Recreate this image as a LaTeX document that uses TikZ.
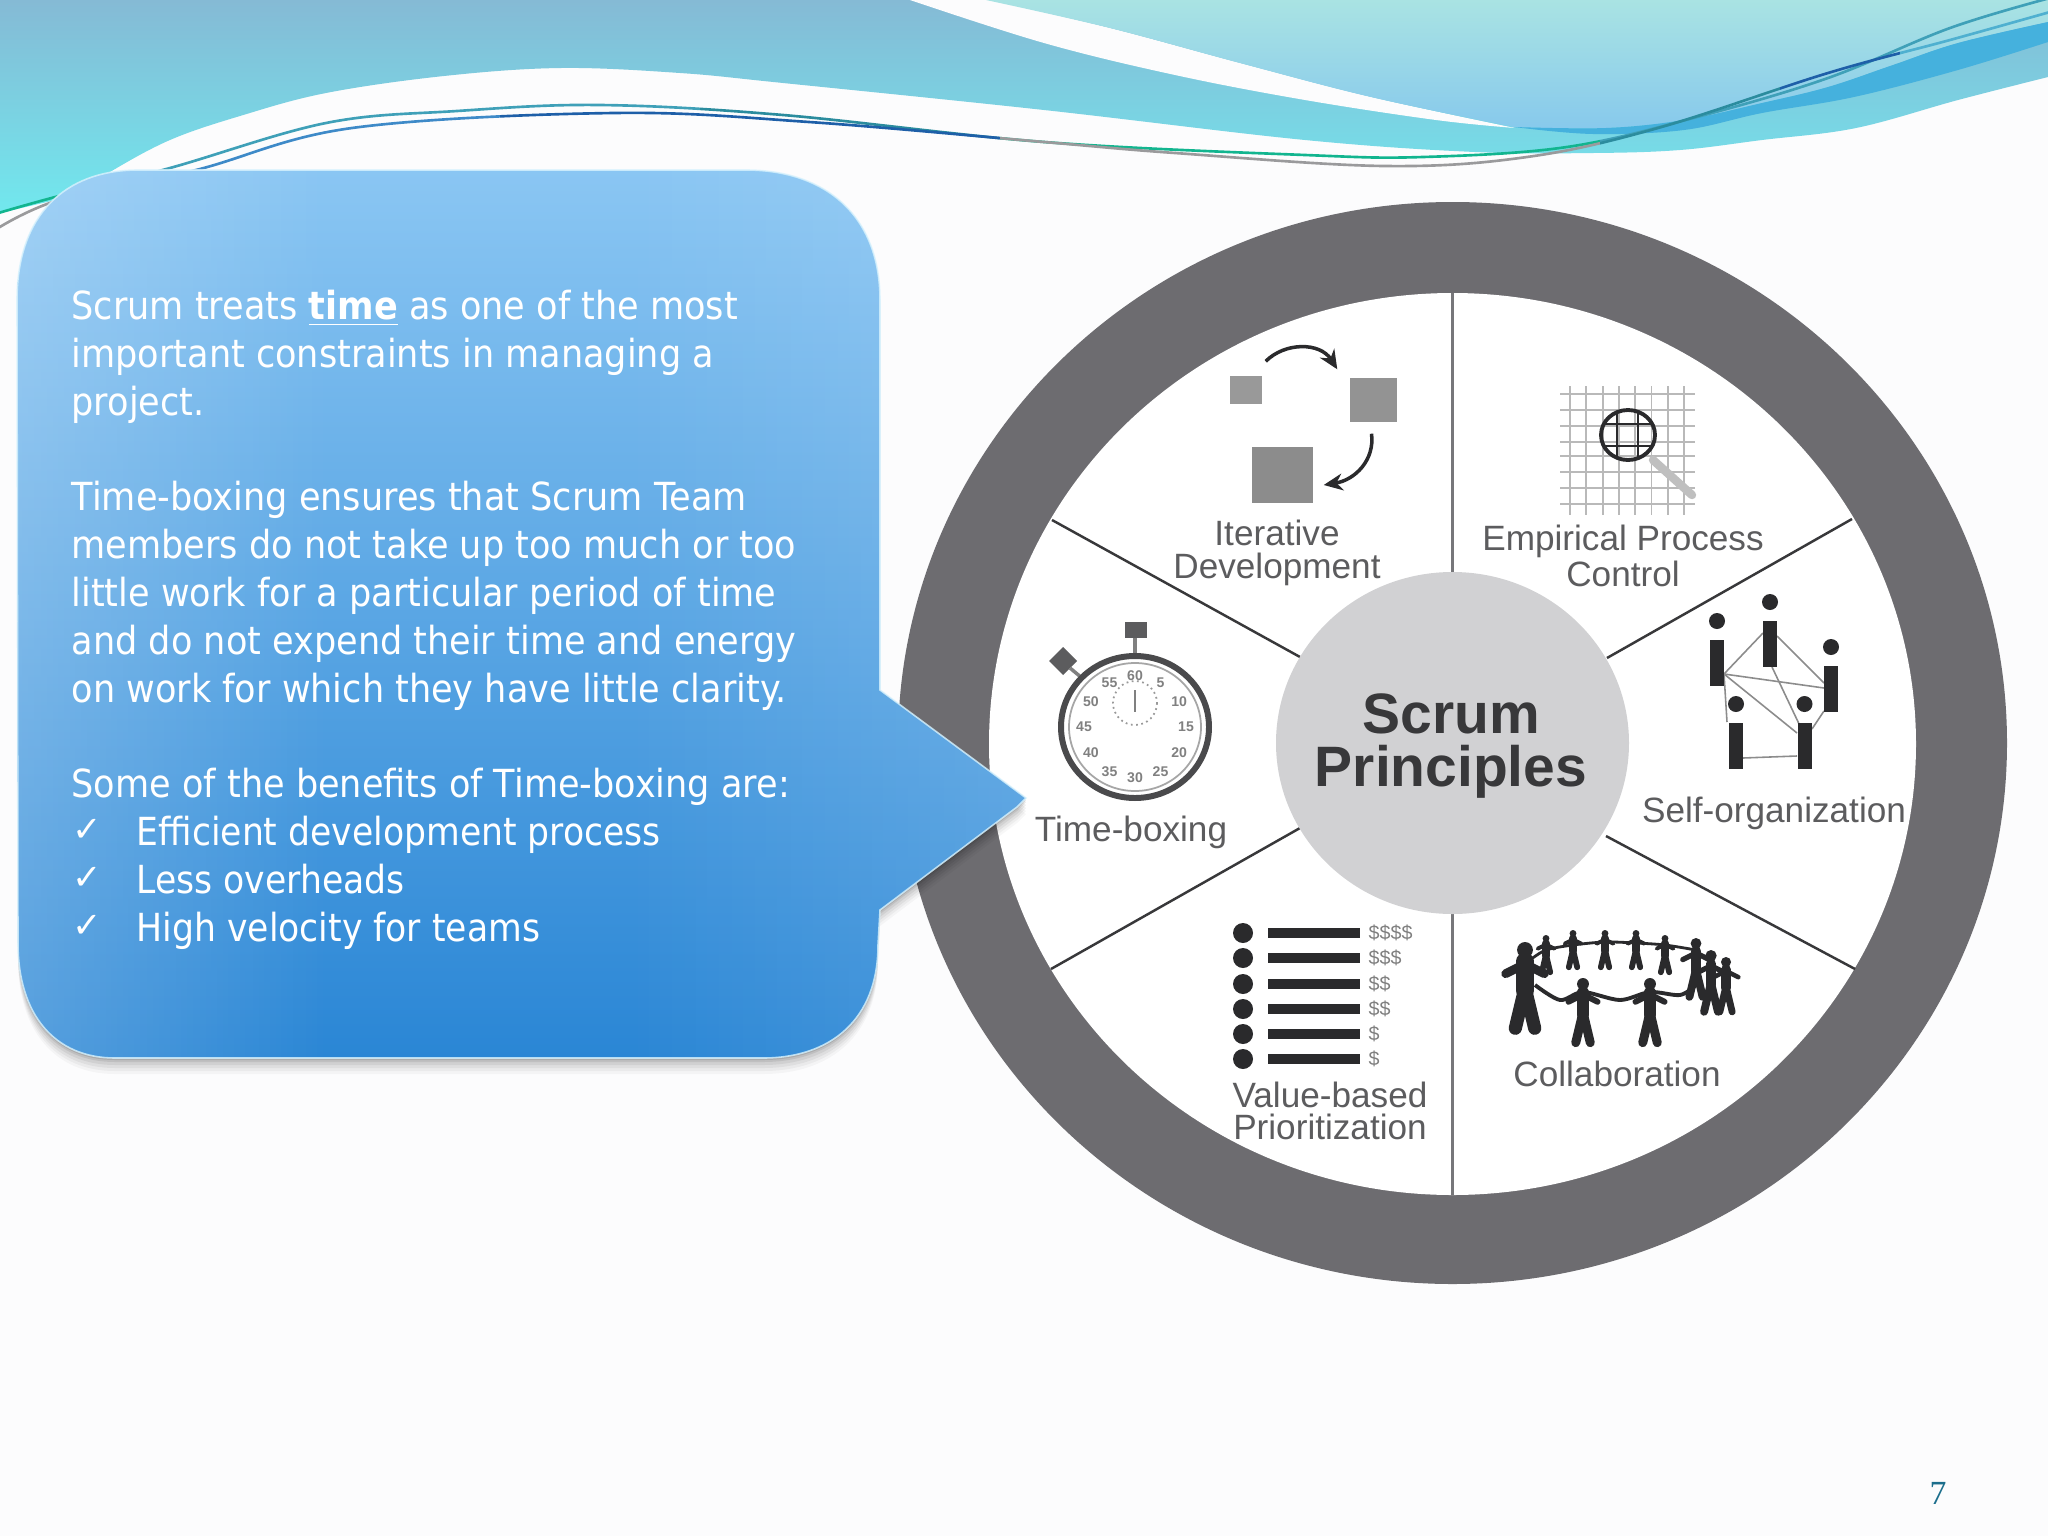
\documentclass[tikz,border=0pt]{standalone}
\usepackage{fontspec}
\usetikzlibrary{fadings,arrows.meta}
\setmainfont{Liberation Sans}
\newfontfamily\slidefont{DejaVu Sans}[FakeStretch=0.907]
\newfontfamily\itemfont{DejaVu Sans}[FakeStretch=0.895]
\newfontfamily\chkfont{DejaVu Sans}
\newfontfamily\difont{Liberation Sans}
\newfontfamily\numfont{Liberation Serif}
\definecolor{pagebg}{HTML}{FCFCFD}
\definecolor{wavetop}{HTML}{85BAD5}
\definecolor{wavebot}{HTML}{71E8EE}
\definecolor{lighttop}{HTML}{A9E3E3}
\definecolor{lightbot}{HTML}{87C9EC}
\definecolor{bandblue}{HTML}{45B1DD}
\definecolor{ringgray}{HTML}{6D6C70}
\definecolor{hubgray}{HTML}{D1D1D3}
\definecolor{spokegray}{HTML}{77777A}
\definecolor{spokedark}{HTML}{38383A}
\definecolor{lbl}{HTML}{5C5C5E}
\definecolor{ink}{HTML}{2A2A2C}
\definecolor{boxa}{HTML}{8AC6F3}
\definecolor{boxb}{HTML}{57A6E6}
\definecolor{boxc}{HTML}{2A86D5}
\definecolor{pagenum}{HTML}{1B6E8C}
\definecolor{wiregreen}{HTML}{12B58F}
\definecolor{wireteal}{HTML}{3FA0B8}
\definecolor{wiredeep}{HTML}{2B8C9E}
\definecolor{wireblue}{HTML}{3E8AC8}
\definecolor{wirenavy}{HTML}{1E5FA8}
\definecolor{wiregray}{HTML}{9A9A9C}
\definecolor{wiresky}{HTML}{4FB0D0}
\def\lineA{plot[smooth,tension=.6] coordinates {(-5,214)(59,196)(170,168)(326,123)(457,111)(600,105)(783,115)(1044,142)(1305,155)(1423,157)(1567,147)(1697,117)(1828,78)(1950,28)(2050,-2)}}
\def\lineB{plot[smooth,tension=.6] coordinates {(-5,230)(59,200)(196,170)(352,128)(614,113)(809,122)(1044,142)(1175,153)(1384,166)(1527,157)(1658,128)(1828,73)(1950,40)(2050,12)}}
\def\calloutpath{(138,170) -- (746,170) .. controls (825,170) and (880,215) .. (880,300) -- (880,690) -- (1026,798) -- (1017,807) -- (880,910) -- (878,945) .. controls (878,1020) and (830,1058) .. (763,1058) -- (115,1058) .. controls (55,1058) and (18,1015) .. (18,943) -- (17,300) .. controls (17,215) and (65,170) .. (138,170) -- cycle}
\newcommand\segm[4]{\begin{scope}\clip (#1,-10) rectangle (#2,300);\draw[wavewire,#3] #4;\end{scope}}
\newcommand\figperson[4]{\begin{scope}[shift={(#1,#2)},scale=#3]
  \fill[ink] (0,9) circle[radius=9];
  \draw[ink,line width=#4,line cap=round] (0,22) -- (0,55);
  \draw[ink,line width=#4*.75,line cap=round] (0,52) -- (-11,98) (0,52) -- (11,98);
  \draw[ink,line width=#4*.5,line cap=round] (0,25) -- (-22,36) (0,25) -- (22,36);
\end{scope}}
\tikzset{
  wavewire/.style={line width=.75pt},
  slideline/.style={anchor=base west,inner sep=0pt,text=white,font=\slidefont\fontsize{11}{13}\selectfont},
  itemline/.style={anchor=base west,inner sep=0pt,text=white,font=\itemfont\fontsize{11}{13}\selectfont},
  slidecheck/.style={anchor=base west,inner sep=0pt,text=white,font=\chkfont\fontsize{10}{12}\selectfont},
  dialabel/.style={inner sep=0pt,align=center,text=lbl,font=\difont\fontsize{10}{9.25}\selectfont},
  hublabel/.style={inner sep=0pt,align=center,text=spokedark,font=\difont\bfseries\fontsize{16.2}{14.8}\selectfont},
  spokev/.style={draw=spokegray,line width=1.1pt},
  spoked/.style={draw=spokedark,line width=.7pt},
  iconsq/.style={fill=#1,inner sep=0pt,draw=none},
  dollar/.style={anchor=west,inner sep=0pt,text=gray,font=\difont\fontsize{5.6}{6}\selectfont},
  dialnum/.style={inner sep=0pt,text=gray,font=\difont\bfseries\fontsize{4}{4}\selectfont},
  flow/.style={ink,line width=1pt,-{Stealth[length=5.4pt,width=4.8pt]}},
  net/.style={draw=gray!90,line width=.45pt}
}
\begin{document}
\begin{tikzpicture}[x=0.01cm,y=-0.01cm]
\useasboundingbox (0,0) rectangle (2048,1536);
\clip (0,0) rectangle (2048,1536);
\fill[pagebg] (0,0) rectangle (2048,1536);
% waves
\shade[top color=wavetop,bottom color=wavebot] (0,0) -- (2048,0) -- (2048,77) -- plot[smooth,tension=.6] coordinates {(2048,77)(1958,100)(1856,128)(1762,140)(1680,150)(1593,153)(1475,152)(1305,140)(1044,110)(783,83)(680,73)(561,68)(444,76)(326,93)(240,116)(170,140)(110,172)(77,195)} -- (0,213) -- cycle;
\fill[pagebg] plot[smooth,tension=.6] coordinates {(907,-1)(1044,43)(1175,75)(1305,100)(1436,120)(1515,128)} -- plot[smooth,tension=.6] coordinates {(1515,128)(1371,97)(1240,63)(1110,28)(986,-1)} -- cycle;
\shade[top color=lighttop,bottom color=lightbot] (986,0) -- (2048,0) -- (2048,22) -- plot[smooth,tension=.6] coordinates {(2048,22)(1958,43)(1893,65)(1828,87)(1762,103)(1684,120)(1606,128)(1514,127)} -- plot[smooth,tension=.6] coordinates {(1514,127)(1371,97)(1240,63)(1110,28)(986,0)} -- cycle;
\fill[bandblue] plot[smooth,tension=.6] coordinates {(1514,127)(1606,128)(1684,120)(1762,103)(1828,87)(1893,65)(1958,43)(2048,22)} -- (2048,42) -- plot[smooth,tension=.6] coordinates {(2048,42)(1958,70)(1854,97)(1762,113)(1684,130)(1593,134)(1514,127)} -- cycle;
% wave wires
\segm{-10}{100}{color=wiregreen}{\lineA}
\segm{100}{700}{color=wireteal}{\lineA}
\segm{700}{1000}{color=wiredeep}{\lineA}
\segm{1000}{1600}{color=wiregreen}{\lineA}
\segm{1600}{2060}{color=wireteal}{\lineA}
\segm{-10}{100}{color=wiregray}{\lineB}
\segm{100}{500}{color=wireblue}{\lineB}
\segm{500}{1000}{color=wirenavy}{\lineB}
\segm{1000}{1600}{color=wiregray}{\lineB}
\segm{1600}{1780}{color=wiredeep}{\lineB}
\segm{1780}{1900}{color=wirenavy}{\lineB}
\segm{1900}{2060}{color=wiresky}{\lineB}
% wheel
\fill[ringgray] (1452.5,743) ellipse[x radius=554.5,y radius=541];
\fill[white] (1452.5,744) ellipse[x radius=463.5,y radius=451];
\draw[spokev] (1452.5,293) -- (1452.5,575);
\draw[spokev] (1452.5,914) -- (1452.5,1195);
\draw[spoked] (1052,520) -- (1300,657);
\draw[spoked] (1852,519) -- (1607,658);
\draw[spoked] (1051,969) -- (1300,828);
\draw[spoked] (1855,969) -- (1606,836);
\fill[hubgray] (1452.5,743) ellipse[x radius=176.5,y radius=171];
\node[hublabel] (hub) at (1451,746) {Scrum\\Principles};
% iterative development
\node[iconsq=gray!80,minimum width=.32cm,minimum height=.28cm] (sqa) at (1246,390) {};
\node[iconsq=gray!85,minimum width=.47cm,minimum height=.44cm] (sqb) at (1373.5,400) {};
\node[iconsq=gray!90,minimum width=.61cm,minimum height=.56cm] (sqc) at (1282.5,475) {};
\draw[flow] ([shift={(3,-14)}]sqa.north east) .. controls (1285,342) and (1320,342) .. ([shift={(-12,-8)}]sqb.north west);
\draw[flow] ([shift={(-2,11)}]sqb.south) .. controls (1375,460) and (1355,480) .. ([shift={(10,10)}]sqc.east);
\node[dialabel] (iter) at (1277,553) {Iterative\\Development};
% empirical process control
\foreach \gx in {1570,1586.3,...,1685} \draw[gray!55,line width=.55pt] (\gx,386) -- (\gx,515);
\foreach \gy in {394,410,426,442,456,472,488,504} \draw[gray!55,line width=.55pt] (1560,\gy) -- (1695,\gy);
\draw[gray!50,line width=2.4pt,line cap=round] (1653,460) -- (1692,495);
\draw[ink,line width=1.1pt] (1628,435) ellipse[x radius=27,y radius=25];
\draw[ink,line width=.7pt] (1617,412) -- (1617,458) (1638,412) -- (1638,458) (1603,424) -- (1653,424) (1603,446) -- (1653,446);
\node[dialabel] (empi) at (1623,556) {Empirical Process\\Control};
% self-organization
\foreach \xa/\ya/\xb/\yb in {1724/674/1763/633,1724/674/1824/688,1724/674/1797/733,1724/674/1727/722,1777/636/1824/683,1772/667/1800/726,1824/711/1812/729,1743/758/1797/756} \draw[net] (\xa,\ya) -- (\xb,\yb);
\foreach \hx/\hy in {1717/621,1770/602,1831/647,1736/704,1804.5/704} {
  \fill[ink] (\hx,\hy) circle[radius=8];
  \fill[ink] (\hx-7,\hy+19) rectangle (\hx+7,\hy+65);
}
\node[dialabel] (self) at (1774,813) {Self-organization};
% time-boxing
\fill[lbl] (1125,622) rectangle (1147,638);
\draw[gray,line width=1pt] (1135,638) -- (1135,655);
\fill[lbl] (1063,647) -- (1077,661) -- (1063,675) -- (1049,661) -- cycle;
\draw[gray,line width=1pt] (1070,668) -- (1082,678);
\draw[ink!85,line width=1.7pt] (1135,727) ellipse[x radius=74,y radius=71];
\draw[gray!70,line width=.5pt] (1135,727) ellipse[x radius=66,y radius=64];
\draw[gray!80,line width=.5pt,densely dotted] (1135,703) circle[radius=22];
\draw[gray,line width=.5pt] (1135,690) -- (1135,712);
\foreach \dn/\dang in {60/90,5/60,10/30,15/0,20/-30,25/-60,30/-90,35/-120,40/-150,45/180,50/150,55/120}
  \node[dialnum] (dial\dn) at ({1135+51*cos(\dang)},{727-51*sin(\dang)}) {\dn};
\node[dialabel] (tbox) at (1131,832) {Time-boxing};
% value-based prioritization
\foreach \ln/\ly/\ld in {a/933/\$\$\$\$,b/958/\$\$\$,c/984/\$\$,d/1009/\$\$,e/1034/\$,f/1059/\$} {
  \fill[ink] (1243,\ly) circle[radius=10];
  \fill[ink] (1268,\ly-5) rectangle (1360,\ly+5);
  \node[dollar] (cost\ln) at (1368,\ly) {\ld};
}
\node[dialabel] (valu) at (1330,1111) {Value-based\\Prioritization};
% collaboration
\figperson{1546}{935}{.38}{2.2pt}
\figperson{1573}{930}{.38}{2.2pt}
\figperson{1605}{930}{.38}{2.2pt}
\figperson{1636}{930}{.38}{2.2pt}
\figperson{1665}{935}{.38}{2.2pt}
\figperson{1696}{938}{.6}{3pt}
\figperson{1711}{950}{.63}{3pt}
\figperson{1726}{957}{.56}{2.6pt}
\figperson{1525}{942}{.88}{5pt}
\figperson{1583}{978}{.66}{3.4pt}
\figperson{1650}{978}{.66}{3.4pt}
\draw[ink,line width=.8pt] plot[smooth] coordinates {(1530,960)(1546,950)(1573,945)(1605,942)(1636,943)(1665,945)(1696,950)};
\draw[ink,line width=1.1pt] plot[smooth] coordinates {(1535,985)(1560,1000)(1583,992)(1620,1000)(1650,992)(1680,995)(1696,985)};
\node[dialabel] (coll) at (1617,1074) {Collaboration};
% callout
\foreach \sh/\op in {16/.03,13/.04,10/.05,7/.06,4/.08,2/.1}
  \fill[black,opacity=\op,shift={(0,\sh)}] \calloutpath;
\begin{scope}
  \clip \calloutpath;
  \shade[top color=boxa,middle color=boxb,bottom color=boxc] (0,170) rectangle (1040,1058);
  \fill[white,opacity=.32,path fading=east] (-150,170) rectangle (330,1060);
  \fill[white,opacity=.16,path fading=west] (620,170) rectangle (1100,1060);
\end{scope}
\draw[cyan!15!white,opacity=.8,line width=.45pt] \calloutpath;
\node[slideline] (t1) at (71,319) {Scrum treats \underline{\textbf{time}} as one of the most};
\node[slideline] (t2) at (71,367) {important constraints in managing a};
\node[slideline] (t3) at (71,415) {project.};
\node[slideline] (t4) at (71,510) {Time-boxing ensures that Scrum Team};
\node[slideline] (t5) at (71,558) {members do not take up too much or too};
\node[slideline] (t6) at (71,606) {little work for a particular period of time};
\node[slideline] (t7) at (71,654) {and do not expend their time and energy};
\node[slideline] (t8) at (71,702) {on work for which they have little clarity.};
\node[slideline] (t9) at (71,797) {Some of the benefits of Time-boxing are:};
\node[slidecheck] (c1) at (72,841) {✓};
\node[slidecheck] (c2) at (72,889) {✓};
\node[slidecheck] (c3) at (72,937) {✓};
\node[itemline] (b1) at (136,845) {Efficient development process};
\node[itemline] (b2) at (136,893) {Less overheads};
\node[itemline] (b3) at (136,941) {High velocity for teams};
\node[anchor=base,inner sep=0pt,text=pagenum,font=\numfont\fontsize{9.6}{10}\selectfont] (pg) at (1938,1504) {7};
\end{tikzpicture}
\end{document}
